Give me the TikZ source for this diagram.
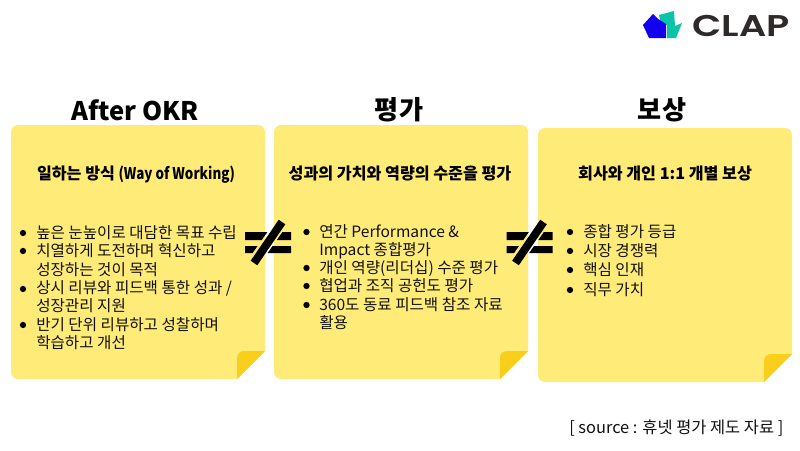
\documentclass[tikz,border=0pt]{standalone}
\usepackage{fontspec}
\usepackage{graphicx}
\setmainfont{Noto Sans CJK KR}
\newfontfamily\logofont{Poppins}[BoldFont={Poppins SemiBold}]
\definecolor{note}{HTML}{FFEB78}
\definecolor{fold}{HTML}{F9CF1B}
\definecolor{ink}{HTML}{111111}
\definecolor{logoblue}{HTML}{1400F0}
\definecolor{logoteal}{HTML}{0BC4A8}
\definecolor{logoink}{HTML}{2E2A2A}
\tikzset{
 x=0.75pt,y=-0.75pt,
 notepaper/.style={fill=note,draw=none},
 notefold/.style={fill=fold,draw=none},
 heading/.style={font=\fontsize{19.2pt}{21pt}\selectfont\bfseries,text=black,inner sep=0pt,anchor=center},
 subhead/.style={font=\fontsize{12.1pt}{14pt}\selectfont\bfseries,text=black,inner sep=0pt,anchor=center},
 bodyline/.style={font=\fontsize{11.7pt}{13pt}\selectfont,text=ink,inner sep=0pt,anchor=west,text height=9pt,text depth=2.4pt},
 sourceline/.style={font=\fontsize{12.3pt}{14pt}\selectfont,text=ink,inner sep=0pt,anchor=west,text height=9pt,text depth=2.4pt},
 dotmark/.style={circle,fill=black,draw=none,minimum size=4.7pt,inner sep=0pt},
 neqmark/.style={fill=black,draw=none},
 neqslash/.style={draw=black,line width=6pt,line cap=butt},
}
\newcommand{\stickynote}[2]{%
 \begin{scope}[shift={(#1,#2)}]
  \path[notepaper] (7,0) -- (247,0) arc[start angle=-90,end angle=0,radius=7] -- (254,226) -- (226,254) -- (7,254) arc[start angle=90,end angle=180,radius=7] -- (0,7) arc[start angle=180,end angle=270,radius=7] -- cycle;
  \path[notefold] (226,254) -- (226,233) .. controls (226,229) and (229,226) .. (233,226) -- (254,226) -- cycle;
 \end{scope}}
\newcommand{\neqsign}[2]{%
 \begin{scope}[shift={(#1,0)}]
  \path[neqmark] (245,232) -- (267.4,232) -- (261.8,240) -- (245,240) -- cycle;
  \path[neqmark] (282.4,232) -- (291,232) -- (291,240) -- (276.8,240) -- cycle;
  \path[neqmark] (245,246) -- (257.5,246) -- (252.6,253) -- (245,253) -- cycle;
  \path[neqmark] (272.5,246) -- (291,246) -- (291,253) -- (267.6,253) -- cycle;
  \coordinate (#2a) at (254,263);
  \coordinate (#2b) at (282,222);
  \draw[neqslash] (#2a) -- (#2b);
 \end{scope}}
\begin{document}
\begin{tikzpicture}
\useasboundingbox[fill=white] (0,0) rectangle (800,450);
\stickynote{11}{125}
\stickynote{274}{125}
\stickynote{538}{128}
\neqsign{0}{ne}
\neqsign{261.5}{nf}
% logo
\path[fill=logoteal] (659,15) -- (674,11) -- (675,26) -- (682,23) -- (676,38) -- (667,38) -- (667,25) -- (661,24) -- cycle;
\path[fill=logoblue] (643,25) -- (653,14) -- (658,19) -- (666,24) -- (666,38) -- (649,38) -- cycle;
\node[inner sep=0pt,anchor=west,text=logoink,font=\fontsize{22.5pt}{24pt}\selectfont\logofont\bfseries] (logo) at (692,26) {\scalebox{1.27}[1]{CLAP}};
% headings
\node[heading] (h1) at (135,110) {After OKR};
\node[heading,font=\fontsize{19.6pt}{22pt}\selectfont\bfseries] (h2) at (399,110) {평가};
\node[heading,font=\fontsize{19.6pt}{22pt}\selectfont\bfseries] (h3) at (662,110) {보상};
\node[subhead] (s1) at (136,175) {일하는 방식 \scalebox{.83}[1]{(Way of Working)}};
\node[subhead] (s2) at (400,173) {성과의 가치와 역량의 수준을 평가};
\node[subhead] (s3) at (665,173) {회사와 개인 1:1 개별 보상};
% card 1
\foreach \n/\y in {a/233,b/251,c/289,d/325}{\node[dotmark] (d1\n) at (23,\y) {};}
\node[bodyline] (a1) at (36,234) {높은 눈높이로 대담한 목표 수립};
\node[bodyline] (a2) at (36,252) {치열하게 도전하며 혁신하고};
\node[bodyline] (a3) at (36,271) {성장하는 것이 목적};
\node[bodyline] (a4) at (36,289) {상시 리뷰와 피드백 통한 성과 /};
\node[bodyline] (a5) at (36,307) {성장관리 지원};
\node[bodyline] (a6) at (36,326) {반기 단위 리뷰하고 성찰하며};
\node[bodyline] (a7) at (36,344) {학습하고 개선};
% card 2
\foreach \n/\y in {a/232,b/268,c/286,d/305}{\node[dotmark] (d2\n) at (306.5,\y) {};}
\node[bodyline] (b1) at (319,233) {연간 Performance \&};
\node[bodyline] (b2) at (319,251) {Impact 종합평가};
\node[bodyline] (b3) at (319,269) {개인 역량(리더십) 수준 평가};
\node[bodyline] (b4) at (319,287) {협업과 조직 공헌도 평가};
\node[bodyline] (b5) at (319,306) {360도 동료 피드백 참조 자료};
\node[bodyline] (b6) at (319,324) {활용};
% card 3
\foreach \n/\y in {a/232,b/251,c/270,d/290}{\node[dotmark] (d3\n) at (570,\y) {};}
\node[bodyline] (c1) at (583,233) {종합 평가 등급};
\node[bodyline] (c2) at (583,252) {시장 경쟁력};
\node[bodyline] (c3) at (583,271) {핵심 인재};
\node[bodyline] (c4) at (583,291) {직무 가치};
% source
\node[sourceline] (src) at (569,429) {[ source : 휴넷 평가 제도 자료 ]};
\end{tikzpicture}
\end{document}
